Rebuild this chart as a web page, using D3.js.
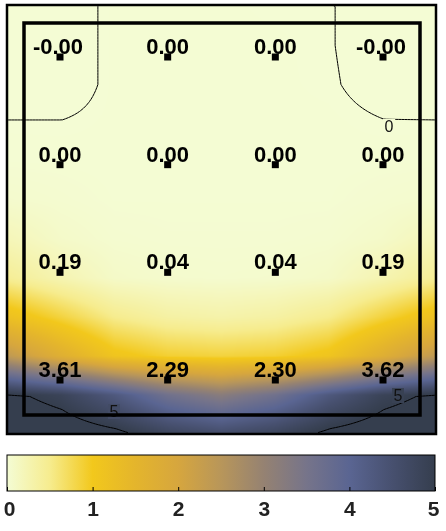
<!DOCTYPE html>
<html><head><meta charset="utf-8">
<script src="https://cdn.jsdelivr.net/npm/d3@7"></script>
<style>body{margin:0;background:#fff}canvas,svg{position:absolute;left:0;top:0}</style>
</head><body>
<canvas id="c" width="446" height="531"></canvas>
<svg id="s" width="446" height="531"></svg>
<script>
// sensor grid (4x4) and readings
var colsX = [0, 1, 2, 3];
var rowsY = [0, 1, 2, 3];
var readings = [
  ["-0.00", "0.00", "0.00", "-0.00"],
  ["0.00", "0.00", "0.00", "0.00"],
  ["0.19", "0.04", "0.04", "0.19"],
  ["3.61", "2.29", "2.30", "3.62"]
];
// coarse field estimate, 9 columns x 12 rows, top to bottom
var field = [
  [-0.02,-0.01,0.005,0.005,0.005,0.002,0.001,-0.01,-0.02],
  [-0.02,-0.01,0.005,0.005,0.005,0.005,0.001,-0.01,-0.02],
  [-0.01,-0.01,0.005,0.005,0.005,0.005,0.002,-0.008,-0.01],
  [0.001,0.001,0.005,0.005,0.005,0.005,0.005,0.001,0.001],
  [0.01,0.008,0.005,0.005,0.005,0.005,0.005,0.008,0.01],
  [0.05,0.03,0.01,0.01,0.01,0.01,0.01,0.03,0.05],
  [0.2,0.08,0.03,0.02,0.02,0.02,0.03,0.08,0.2],
  [0.45,0.25,0.09,0.05,0.04,0.05,0.09,0.25,0.45],
  [1.2,0.85,0.5,0.35,0.3,0.35,0.5,0.85,1.2],
  [2.4,1.7,1.1,0.9,0.85,0.9,1.1,1.7,2.4],
  [5.1,4.85,4.3,3.6,3.2,3.6,4.3,4.85,5.1],
  [5.4,5.3,5.15,4.8,4.6,4.8,5.15,5.3,5.4]
];
var contourLevels = [0, 5];
var barTicks = [0, 1, 2, 3, 4, 5];
var colorStops = ["#f4fcd4","#f6ec8e","#f2c81c","#e4b52c","#d6a63e","#b8965a","#958272","#76748a","#5a6592","#47506f","#353e4e"];

var fx0 = 7, fy0 = 5, fx1 = 436, fy1 = 434;
var color = d3.scaleLinear().domain(d3.range(11).map(function(i){return i/2;})).range(colorStops).clamp(true);
var gx = d3.scaleLinear().domain([fx0, fx1]).range([0, field[0].length - 1]);
var gy = d3.scaleLinear().domain([fy0, fy1]).range([0, field.length - 1]);

function valueAt(px, py) {
  var u = Math.max(0, Math.min(field[0].length - 1, gx(px)));
  var v = Math.max(0, Math.min(field.length - 1, gy(py)));
  var i = Math.min(Math.floor(u), field[0].length - 2), j = Math.min(Math.floor(v), field.length - 2);
  var a = u - i, b = v - j;
  return field[j][i]*(1-a)*(1-b) + field[j][i+1]*a*(1-b) + field[j+1][i]*(1-a)*b + field[j+1][i+1]*a*b;
}

var ctx = document.getElementById("c").getContext("2d");
var img = ctx.createImageData(fx1 - fx0, fy1 - fy0);
for (var y = 0; y < fy1 - fy0; y++) for (var x = 0; x < fx1 - fx0; x++) {
  var c = d3.rgb(color(valueAt(fx0 + x + 0.5, fy0 + y + 0.5)));
  var k = 4 * (y * (fx1 - fx0) + x);
  img.data[k] = c.r; img.data[k+1] = c.g; img.data[k+2] = c.b; img.data[k+3] = 255;
}
ctx.putImageData(img, fx0, fy0);

var svg = d3.select("#s");

// contour lines
var step = 3, nw = Math.ceil((fx1 - fx0) / step), nh = Math.ceil((fy1 - fy0) / step);
var vals = [];
for (var j = 0; j < nh; j++) for (var i = 0; i < nw; i++) vals.push(valueAt(fx0 + i*step, fy0 + j*step));
var contours = d3.contours().size([nw, nh]).smooth(true).thresholds(contourLevels)(vals);
var proj = d3.geoTransform({point: function(x, y){ this.stream.point(fx0 + x*step, fy0 + y*step); }});
svg.append("g").selectAll("path").data(contours).join("path")
  .attr("d", d3.geoPath(proj)).attr("fill", "none").attr("stroke", "#000").attr("stroke-width", 1);
svg.selectAll("rect.frame").data([0]).join("rect")
  .attr("x", fx0).attr("y", fy0).attr("width", fx1 - fx0).attr("height", fy1 - fy0)
  .attr("fill", "none").attr("stroke", "#000").attr("stroke-width", 2.5);
// contour labels
var clabs = [{t:"0", x:389, y:132}, {t:"5", x:114, y:417}, {t:"5", x:398, y:401}];
clabs.forEach(function(d){
  svg.append("rect").attr("x", d.x - 6).attr("y", d.y - 13).attr("width", 12).attr("height", 15)
    .attr("fill", color(valueAt(d.x, d.y - 6)));
  svg.append("text").attr("x", d.x).attr("y", d.y).attr("text-anchor", "middle")
    .attr("font-family", "Liberation Sans, Arial").attr("font-size", 16).attr("fill", "#111").text(d.t);
});

// inner frame and sensors
var px = d3.scaleLinear().domain([0, 3]).range([60, 383]);
var py = d3.scaleLinear().domain([0, 3]).range([57, 380]);
svg.append("rect").attr("x", 24).attr("y", 23).attr("width", 396).attr("height", 392)
  .attr("fill", "none").attr("stroke", "#000").attr("stroke-width", 3.5);
var pts = [];
rowsY.forEach(function(r){ colsX.forEach(function(c){ pts.push({r:r, c:c, t:readings[r][c]}); }); });
svg.append("g").selectAll("rect").data(pts).join("rect")
  .attr("x", function(d){return px(d.c) - 3.5;}).attr("y", function(d){return py(d.r) - 3.5;})
  .attr("width", 7).attr("height", 7).attr("fill", "#000");
svg.append("g").selectAll("text").data(pts).join("text")
  .attr("x", function(d){return px(d.c) + (d.t[0] === "-" ? -2 : 0);}).attr("y", function(d){return py(d.r) - 3;})
  .attr("text-anchor", "middle").attr("font-family", "Liberation Sans, Arial").attr("font-weight", "bold")
  .attr("font-size", 22).attr("fill", "#000").text(function(d){return d.t;});

// colorbar
var bx = d3.scaleLinear().domain([0, 5]).range([7, 435]);
var grad = svg.append("defs").append("linearGradient").attr("id", "g");
grad.selectAll("stop").data(colorStops).join("stop")
  .attr("offset", function(d, i){return (i / (colorStops.length - 1) * 100) + "%";}).attr("stop-color", function(d){return d;});
svg.append("rect").attr("x", 7).attr("y", 455).attr("width", 428).attr("height", 36)
  .attr("fill", "url(#g)").attr("stroke", "#000").attr("stroke-width", 1);
var axis = svg.append("g").attr("transform", "translate(0,491)")
  .call(d3.axisBottom(bx).tickValues(barTicks).tickSize(-4).tickPadding(10).tickFormat(d3.format("d")));
axis.select(".domain").remove();
axis.selectAll("text").attr("font-family", "Liberation Sans, Arial").attr("font-weight", "bold")
  .attr("font-size", 21).attr("fill", "#222");
axis.selectAll("text").filter(function(d){return d === 0;}).attr("dx", 2);
axis.selectAll("text").filter(function(d){return d === 5;}).attr("dx", -2);
</script>
</body></html>
